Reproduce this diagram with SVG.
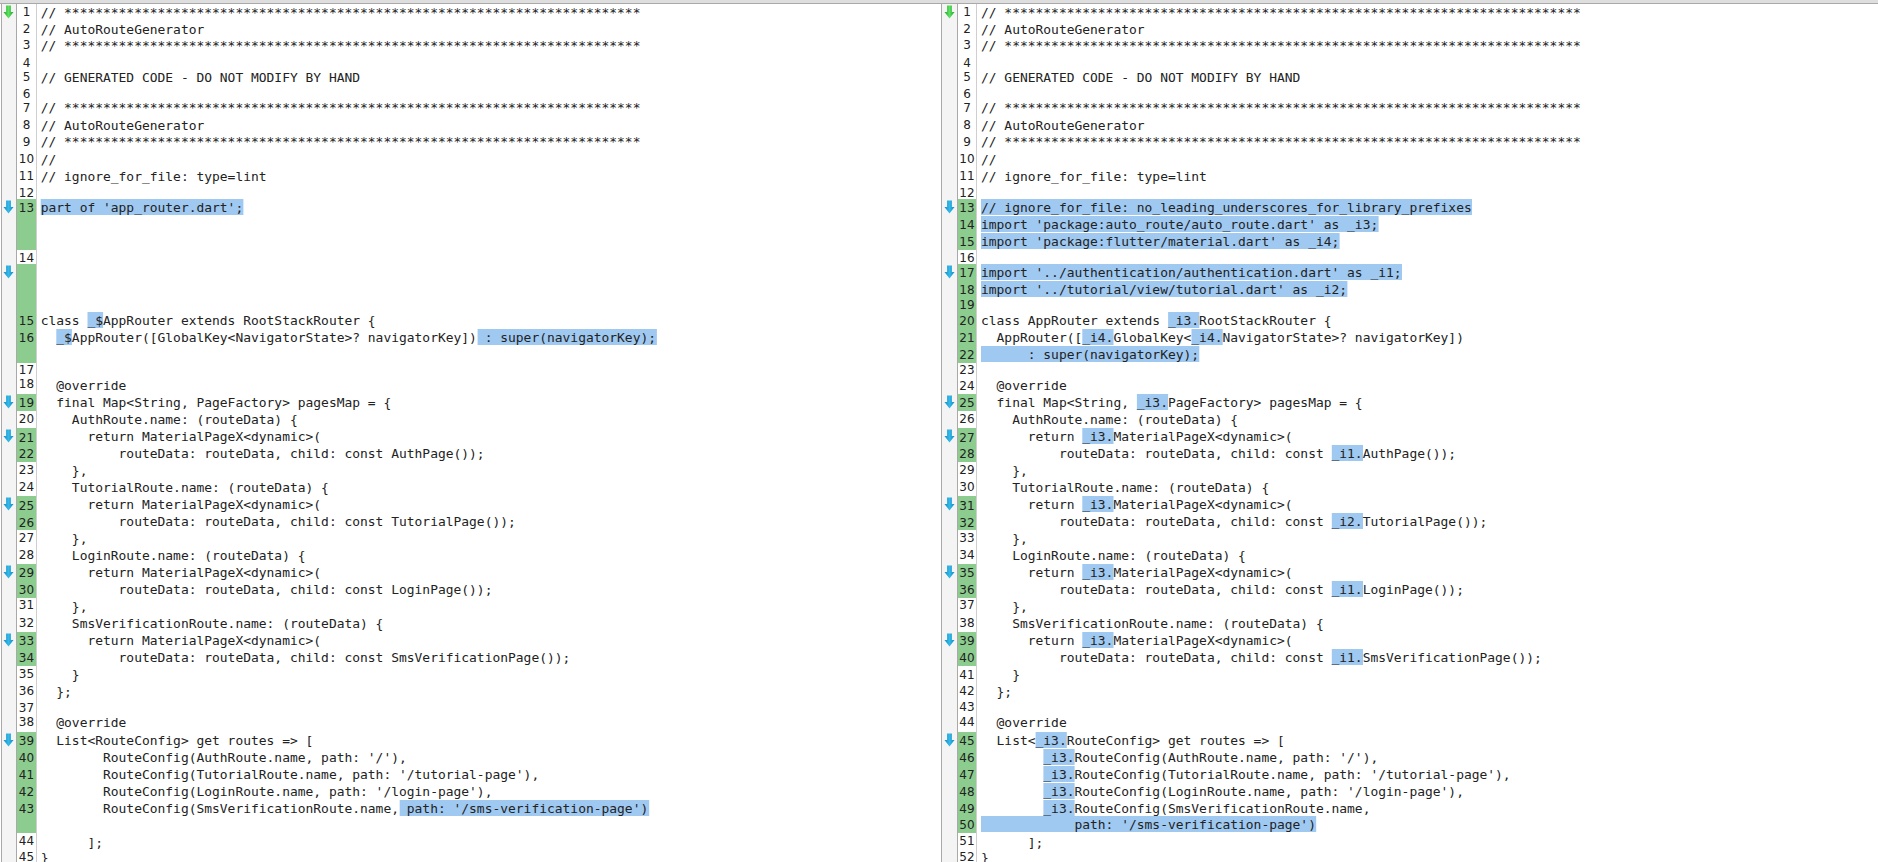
<svg xmlns="http://www.w3.org/2000/svg" width="1878" height="862" viewBox="0 0 1878 862">
<style>
text{white-space:pre}
.c{font:12.95px "DejaVu Sans Mono","Liberation Mono",monospace;fill:#222}
.n{font:12px "DejaVu Sans","Liberation Sans",sans-serif;fill:#222;text-anchor:middle}
.h{fill:#9fc9f1}
.g{fill:#8ccc8e}
.gut{fill:#f4f4f4}
.b1{stroke:#a9a9a9;stroke-width:1;fill:none}
.b2{stroke:#cfcfcf;stroke-width:1;fill:none}
</style>
<defs>
<linearGradient id="gb" x1="0" x2="1" y1="0" y2="0"><stop offset="0" stop-color="#0f8cc4"/><stop offset=".5" stop-color="#35b8e8"/><stop offset="1" stop-color="#0f8cc4"/></linearGradient>
<linearGradient id="gg" x1="0" x2="1" y1="0" y2="0"><stop offset="0" stop-color="#1fa32c"/><stop offset=".5" stop-color="#5ce05f"/><stop offset="1" stop-color="#1fa32c"/></linearGradient>
<path id="arrow" d="M-2.4-6.5H2.4V0H5L0 6.5-5 0H-2.4Z"/>
</defs>
<rect width="1878" height="862" fill="#fff"/>
<rect width="1878" height="3" fill="#dedede"/>
<path d="M0 3.5H1878" class="b1"/>

<g id="left-panel">
<rect x="1.5" y="4" width="15" height="858" class="gut"/>
<g class="g">
<rect x="17" y="199" width="19" height="51"/>
<rect x="17" y="264" width="19" height="99"/>
<rect x="17" y="394" width="19" height="17"/>
<rect x="17" y="428" width="19" height="34"/>
<rect x="17" y="496" width="19" height="34"/>
<rect x="17" y="564" width="19" height="34"/>
<rect x="17" y="632" width="19" height="34"/>
<rect x="17" y="732" width="19" height="101"/>
</g>
<path d="M1.5 4V862M16.5 4V862" class="b1"/><path d="M36.5 4V862" class="b2"/>
<use href="#arrow" x="8.5" y="12" fill="url(#gg)"/>
<g fill="url(#gb)">
<use href="#arrow" x="8.5" y="207"/><use href="#arrow" x="8.5" y="272"/><use href="#arrow" x="8.5" y="402"/><use href="#arrow" x="8.5" y="436"/><use href="#arrow" x="8.5" y="504"/><use href="#arrow" x="8.5" y="572"/><use href="#arrow" x="8.5" y="640"/><use href="#arrow" x="8.5" y="740"/>
</g>
<g class="h">
<rect x="40.7" y="199" width="202.7" height="16"/>
<rect x="87.5" y="312" width="15.6" height="16"/>
<rect x="56.3" y="329" width="15.6" height="16"/>
<rect x="477.6" y="329" width="179.3" height="16"/>
<rect x="399.7" y="800" width="249.5" height="16"/>
</g>
<g class="n">
<text x="26.5" y="16">1</text><text x="26.5" y="32.7">2</text><text x="26.5" y="49.3">3</text><text x="26.5" y="66.7">4</text><text x="26.5" y="81">5</text><text x="26.5" y="97.7">6</text><text x="26.5" y="111.7">7</text><text x="26.5" y="128.7">8</text><text x="26.5" y="145.7">9</text><text x="26.5" y="162.7">10</text><text x="26.5" y="179.7">11</text><text x="26.5" y="196.7">12</text><text x="26.5" y="212">13</text><text x="26.5" y="261.7">14</text><text x="26.5" y="325">15</text><text x="26.5" y="342">16</text><text x="26.5" y="374.3">17</text><text x="26.5" y="388.3">18</text><text x="26.5" y="407">19</text><text x="26.5" y="422.7">20</text><text x="26.5" y="441.7">21</text><text x="26.5" y="458.3">22</text><text x="26.5" y="474.3">23</text><text x="26.5" y="490.7">24</text><text x="26.5" y="509.7">25</text><text x="26.5" y="526.7">26</text><text x="26.5" y="541.7">27</text><text x="26.5" y="559">28</text><text x="26.5" y="577">29</text><text x="26.5" y="594">30</text><text x="26.5" y="609">31</text><text x="26.5" y="626.7">32</text><text x="26.5" y="645">33</text><text x="26.5" y="662">34</text><text x="26.5" y="677.5">35</text><text x="26.5" y="695">36</text><text x="26.5" y="711.7">37</text><text x="26.5" y="725.7">38</text><text x="26.5" y="745">39</text><text x="26.5" y="762">40</text><text x="26.5" y="779">41</text><text x="26.5" y="796">42</text><text x="26.5" y="813">43</text><text x="26.5" y="845">44</text><text x="26.5" y="861">45</text>
</g>
<g class="c">
<text x="40.7" y="17">// **************************************************************************</text>
<text x="40.7" y="34">// AutoRouteGenerator</text>
<text x="40.7" y="50">// **************************************************************************</text>
<text x="40.7" y="82">// GENERATED CODE - DO NOT MODIFY BY HAND</text>
<text x="40.7" y="112">// **************************************************************************</text>
<text x="40.7" y="130">// AutoRouteGenerator</text>
<text x="40.7" y="146">// **************************************************************************</text>
<text x="40.7" y="163.5">//</text>
<text x="40.7" y="181">// ignore_for_file: type=lint</text>
<text x="40.7" y="212">part of 'app_router.dart';</text>
<text x="40.7" y="325">class _$AppRouter extends RootStackRouter {</text>
<text x="40.7" y="342">  _$AppRouter([GlobalKey&lt;NavigatorState&gt;? navigatorKey]) : super(navigatorKey);</text>
<text x="40.7" y="390">  @override</text>
<text x="40.7" y="407">  final Map&lt;String, PageFactory&gt; pagesMap = {</text>
<text x="40.7" y="424">    AuthRoute.name: (routeData) {</text>
<text x="40.7" y="441">      return MaterialPageX&lt;dynamic&gt;(</text>
<text x="40.7" y="458">          routeData: routeData, child: const AuthPage());</text>
<text x="40.7" y="475">    },</text>
<text x="40.7" y="492">    TutorialRoute.name: (routeData) {</text>
<text x="40.7" y="509">      return MaterialPageX&lt;dynamic&gt;(</text>
<text x="40.7" y="526">          routeData: routeData, child: const TutorialPage());</text>
<text x="40.7" y="543">    },</text>
<text x="40.7" y="560">    LoginRoute.name: (routeData) {</text>
<text x="40.7" y="577">      return MaterialPageX&lt;dynamic&gt;(</text>
<text x="40.7" y="594">          routeData: routeData, child: const LoginPage());</text>
<text x="40.7" y="611">    },</text>
<text x="40.7" y="628">    SmsVerificationRoute.name: (routeData) {</text>
<text x="40.7" y="645">      return MaterialPageX&lt;dynamic&gt;(</text>
<text x="40.7" y="662">          routeData: routeData, child: const SmsVerificationPage());</text>
<text x="40.7" y="679">    }</text>
<text x="40.7" y="696">  };</text>
<text x="40.7" y="727">  @override</text>
<text x="40.7" y="745">  List&lt;RouteConfig&gt; get routes =&gt; [</text>
<text x="40.7" y="762">        RouteConfig(AuthRoute.name, path: '/'),</text>
<text x="40.7" y="779">        RouteConfig(TutorialRoute.name, path: '/tutorial-page'),</text>
<text x="40.7" y="796">        RouteConfig(LoginRoute.name, path: '/login-page'),</text>
<text x="40.7" y="813">        RouteConfig(SmsVerificationRoute.name, path: '/sms-verification-page')</text>
<text x="40.7" y="847">      ];</text>
<text x="40.7" y="862">}</text>
</g>
</g>

<g id="right-panel">
<rect x="942" y="4" width="15" height="858" class="gut"/>
<g class="g">
<rect x="958" y="199" width="18" height="51"/>
<rect x="958" y="264" width="18" height="99"/>
<rect x="958" y="394" width="18" height="17"/>
<rect x="958" y="428" width="18" height="34"/>
<rect x="958" y="496" width="18" height="34"/>
<rect x="958" y="564" width="18" height="34"/>
<rect x="958" y="632" width="18" height="34"/>
<rect x="958" y="732" width="18" height="101"/>
</g>
<path d="M941.5 4V862M957.5 4V862" class="b1"/><path d="M976.5 4V862" class="b2"/>
<use href="#arrow" x="949.5" y="12" fill="url(#gg)"/>
<g fill="url(#gb)">
<use href="#arrow" x="949.5" y="207"/><use href="#arrow" x="949.5" y="272"/><use href="#arrow" x="949.5" y="402"/><use href="#arrow" x="949.5" y="436"/><use href="#arrow" x="949.5" y="504"/><use href="#arrow" x="949.5" y="572"/><use href="#arrow" x="949.5" y="640"/><use href="#arrow" x="949.5" y="740"/>
</g>
<g class="h">
<rect x="981" y="199" width="491" height="16"/>
<rect x="981" y="216" width="397.6" height="16"/>
<rect x="981" y="233" width="358.6" height="16"/>
<rect x="981" y="264" width="421" height="16"/>
<rect x="981" y="281" width="366.4" height="16"/>
<rect x="1168.1" y="312" width="31.2" height="16"/>
<rect x="1082.3" y="329" width="31.2" height="16"/>
<rect x="1191.5" y="329" width="31.2" height="16"/>
<rect x="981" y="346" width="218.3" height="16"/>
<rect x="1136.9" y="394" width="31.2" height="16"/>
<rect x="1082.3" y="428" width="31.2" height="16"/>
<rect x="1331.8" y="445" width="31.2" height="16"/>
<rect x="1082.3" y="496" width="31.2" height="16"/>
<rect x="1331.8" y="513" width="31.2" height="16"/>
<rect x="1082.3" y="564" width="31.2" height="16"/>
<rect x="1331.8" y="581" width="31.2" height="16"/>
<rect x="1082.3" y="632" width="31.2" height="16"/>
<rect x="1331.8" y="649" width="31.2" height="16"/>
<rect x="1035.6" y="732" width="31.2" height="16"/>
<rect x="1043.4" y="749" width="31.2" height="16"/>
<rect x="1043.4" y="766" width="31.2" height="16"/>
<rect x="1043.4" y="783" width="31.2" height="16"/>
<rect x="1043.4" y="800" width="31.2" height="16"/>
<rect x="981" y="816" width="335.2" height="16"/>
</g>
<g class="n">
<text x="967" y="16">1</text><text x="967" y="32.7">2</text><text x="967" y="49.3">3</text><text x="967" y="66.7">4</text><text x="967" y="81">5</text><text x="967" y="97.7">6</text><text x="967" y="111.7">7</text><text x="967" y="128.7">8</text><text x="967" y="145.7">9</text><text x="967" y="162.7">10</text><text x="967" y="179.7">11</text><text x="967" y="196.7">12</text><text x="967" y="212">13</text><text x="967" y="229">14</text><text x="967" y="246">15</text><text x="967" y="261.7">16</text><text x="967" y="277">17</text><text x="967" y="294">18</text><text x="967" y="309.3">19</text><text x="967" y="325">20</text><text x="967" y="342">21</text><text x="967" y="359">22</text><text x="967" y="374.3">23</text><text x="967" y="390">24</text><text x="967" y="407">25</text><text x="967" y="422.7">26</text><text x="967" y="441.7">27</text><text x="967" y="458.3">28</text><text x="967" y="474.3">29</text><text x="967" y="490.7">30</text><text x="967" y="509.7">31</text><text x="967" y="526.7">32</text><text x="967" y="541.7">33</text><text x="967" y="559">34</text><text x="967" y="577">35</text><text x="967" y="594">36</text><text x="967" y="609">37</text><text x="967" y="626.7">38</text><text x="967" y="645">39</text><text x="967" y="662">40</text><text x="967" y="679">41</text><text x="967" y="695">42</text><text x="967" y="711.3">43</text><text x="967" y="725.7">44</text><text x="967" y="745">45</text><text x="967" y="762">46</text><text x="967" y="779">47</text><text x="967" y="796">48</text><text x="967" y="813">49</text><text x="967" y="829">50</text><text x="967" y="845">51</text><text x="967" y="861">52</text>
</g>
<g class="c">
<text x="981" y="17">// **************************************************************************</text>
<text x="981" y="34">// AutoRouteGenerator</text>
<text x="981" y="50">// **************************************************************************</text>
<text x="981" y="82">// GENERATED CODE - DO NOT MODIFY BY HAND</text>
<text x="981" y="112">// **************************************************************************</text>
<text x="981" y="130">// AutoRouteGenerator</text>
<text x="981" y="146">// **************************************************************************</text>
<text x="981" y="163.5">//</text>
<text x="981" y="181">// ignore_for_file: type=lint</text>
<text x="981" y="212">// ignore_for_file: no_leading_underscores_for_library_prefixes</text>
<text x="981" y="229">import 'package:auto_route/auto_route.dart' as _i3;</text>
<text x="981" y="246">import 'package:flutter/material.dart' as _i4;</text>
<text x="981" y="277">import '../authentication/authentication.dart' as _i1;</text>
<text x="981" y="294">import '../tutorial/view/tutorial.dart' as _i2;</text>
<text x="981" y="325">class AppRouter extends _i3.RootStackRouter {</text>
<text x="981" y="342">  AppRouter([_i4.GlobalKey&lt;_i4.NavigatorState&gt;? navigatorKey])</text>
<text x="981" y="359">      : super(navigatorKey);</text>
<text x="981" y="390">  @override</text>
<text x="981" y="407">  final Map&lt;String, _i3.PageFactory&gt; pagesMap = {</text>
<text x="981" y="424">    AuthRoute.name: (routeData) {</text>
<text x="981" y="441">      return _i3.MaterialPageX&lt;dynamic&gt;(</text>
<text x="981" y="458">          routeData: routeData, child: const _i1.AuthPage());</text>
<text x="981" y="475">    },</text>
<text x="981" y="492">    TutorialRoute.name: (routeData) {</text>
<text x="981" y="509">      return _i3.MaterialPageX&lt;dynamic&gt;(</text>
<text x="981" y="526">          routeData: routeData, child: const _i2.TutorialPage());</text>
<text x="981" y="543">    },</text>
<text x="981" y="560">    LoginRoute.name: (routeData) {</text>
<text x="981" y="577">      return _i3.MaterialPageX&lt;dynamic&gt;(</text>
<text x="981" y="594">          routeData: routeData, child: const _i1.LoginPage());</text>
<text x="981" y="611">    },</text>
<text x="981" y="628">    SmsVerificationRoute.name: (routeData) {</text>
<text x="981" y="645">      return _i3.MaterialPageX&lt;dynamic&gt;(</text>
<text x="981" y="662">          routeData: routeData, child: const _i1.SmsVerificationPage());</text>
<text x="981" y="679">    }</text>
<text x="981" y="696">  };</text>
<text x="981" y="727">  @override</text>
<text x="981" y="745">  List&lt;_i3.RouteConfig&gt; get routes =&gt; [</text>
<text x="981" y="762">        _i3.RouteConfig(AuthRoute.name, path: '/'),</text>
<text x="981" y="779">        _i3.RouteConfig(TutorialRoute.name, path: '/tutorial-page'),</text>
<text x="981" y="796">        _i3.RouteConfig(LoginRoute.name, path: '/login-page'),</text>
<text x="981" y="813">        _i3.RouteConfig(SmsVerificationRoute.name,</text>
<text x="981" y="829">            path: '/sms-verification-page')</text>
<text x="981" y="847">      ];</text>
<text x="981" y="862">}</text>
</g>
</g>
</svg>
